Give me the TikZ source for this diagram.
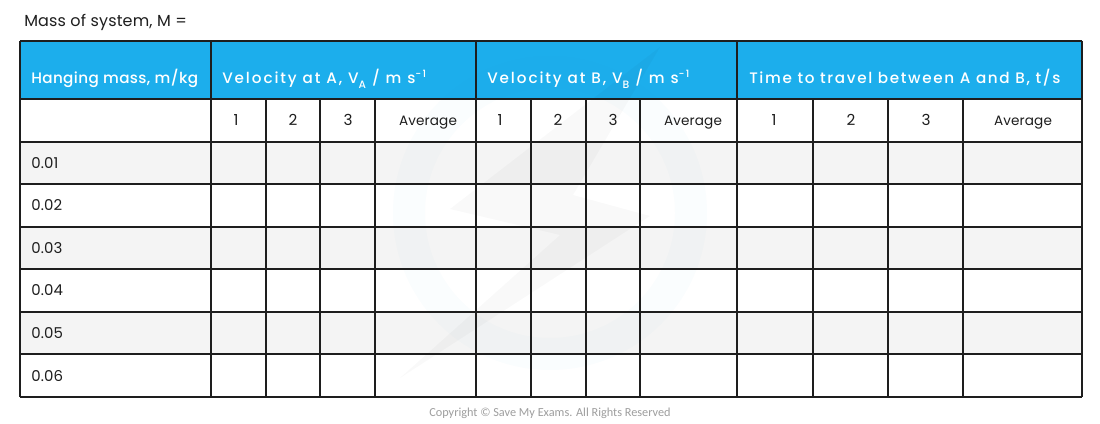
\documentclass[tikz,border=0pt]{standalone}
\usepackage{fontspec}
\setmainfont{Poppins}
\newfontfamily\hdfont{Poppins Medium}
\newfontfamily\bodyfont[LetterSpace=1]{Poppins}
\newfontfamily\titlefont[LetterSpace=1]{Poppins}
\newfontfamily\copyfont{Carlito}
\definecolor{hdblue}{HTML}{1CAEEC}
\definecolor{rowgrey}{HTML}{F4F4F4}
\definecolor{ink}{HTML}{1E1E1E}
\definecolor{ringblue}{HTML}{2A9FD6}
\newcommand{\subm}[1]{\raisebox{-0.32em}{\fontsize{8}{9}\selectfont #1}}
\newcommand{\supm}[1]{\raisebox{0.45em}{\fontsize{7.5}{9}\selectfont #1}}
\tikzset{
  gridline/.style={draw=ink,line width=1.5pt},
  hdtext/.style={anchor=base west,text=white,inner sep=0pt},
  subtext/.style={anchor=base,text=ink,font=\bodyfont\fontsize{10.2}{12}\selectfont,inner sep=0pt},
  digittext/.style={anchor=base,text=ink,font=\bodyfont\fontsize{11.4}{12}\selectfont,inner sep=0pt},
  rowtext/.style={anchor=base west,text=ink,font=\bodyfont\fontsize{11.2}{12}\selectfont,inner sep=0pt}
}
\begin{document}
\begin{tikzpicture}[x=0.75pt,y=-0.75pt]
\useasboundingbox (0,0) rectangle (1100,424);
\fill[white] (0,0) rectangle (1100,424);
% fills
\fill[hdblue] (20,41) rectangle (1082,99);
\foreach \a/\b in {142/184,227/269,312/354}
  \fill[rowgrey] (20,\a) rectangle (1082,\b);
% watermark
\fill[ringblue,opacity=0.02,even odd rule] (550,213) circle[radius=157] (550,213) circle[radius=125];
\fill[black,opacity=0.022] (660,47) -- (450,209) -- (560,235) -- (400,378) -- (650,216) -- (573,195) -- cycle;
% grid
\foreach \yy in {41,99,142,184,227,269,312,354,397}
  \draw[gridline] (20,\yy) -- (1082,\yy);
\foreach \xx in {20,211,476,737,1082}
  \draw[gridline] (\xx,41) -- (\xx,397);
\foreach \xx in {266,320,375,531,586,640,813,888,963}
  \draw[gridline] (\xx,99) -- (\xx,397);
% text
\node[anchor=base west,text=ink,inner sep=0pt,font=\titlefont\fontsize{12}{14}\selectfont] (title) at (24,27) {Mass of system, M =};
\node[hdtext,font=\hdfont\addfontfeature{LetterSpace=2.4}\fontsize{11.4}{13}\selectfont] (h1) at (31,84) {Hanging mass, m/kg};
\node[hdtext,font=\hdfont\addfontfeature{LetterSpace=12.5}\fontsize{11.4}{13}\selectfont] (h2) at (222,84) {Velocity at A, V\subm{A} / m s\supm{−1}};
\node[hdtext,font=\hdfont\addfontfeature{LetterSpace=12.5}\fontsize{11.4}{13}\selectfont] (h3) at (487,84) {Velocity at B, V\subm{B} / m s\supm{−1}};
\node[hdtext,font=\hdfont\addfontfeature{LetterSpace=10.8}\fontsize{11.4}{13}\selectfont] (h4) at (749,84) {Time to travel between A and B, t/s};
\foreach \n/\xx/\t in {a/236/1,b/293/2,c/348/3,e/500/1,f/558/2,g/613/3,i/774/1,j/851/2,k/926/3}
  \node[digittext] (s\n) at (\xx,126) {\t};
\foreach \n/\xx in {d/428,h/693,l/1023}
  \node[subtext] (s\n) at (\xx,126) {Average};
\foreach \n/\yy/\t in {1/169/0.01,2/211/0.02,3/253/0.03,4/296/0.04,5/338/0.05,6/381/0.06}
  \node[rowtext] (r\n) at (31,\yy) {\t};
\node[anchor=base,text=black!38,inner sep=0pt,font=\copyfont\fontsize{9.2}{10}\selectfont] (copy) at (550,416) {Copyright © Save My Exams. All Rights Reserved};
\end{tikzpicture}
\end{document}
